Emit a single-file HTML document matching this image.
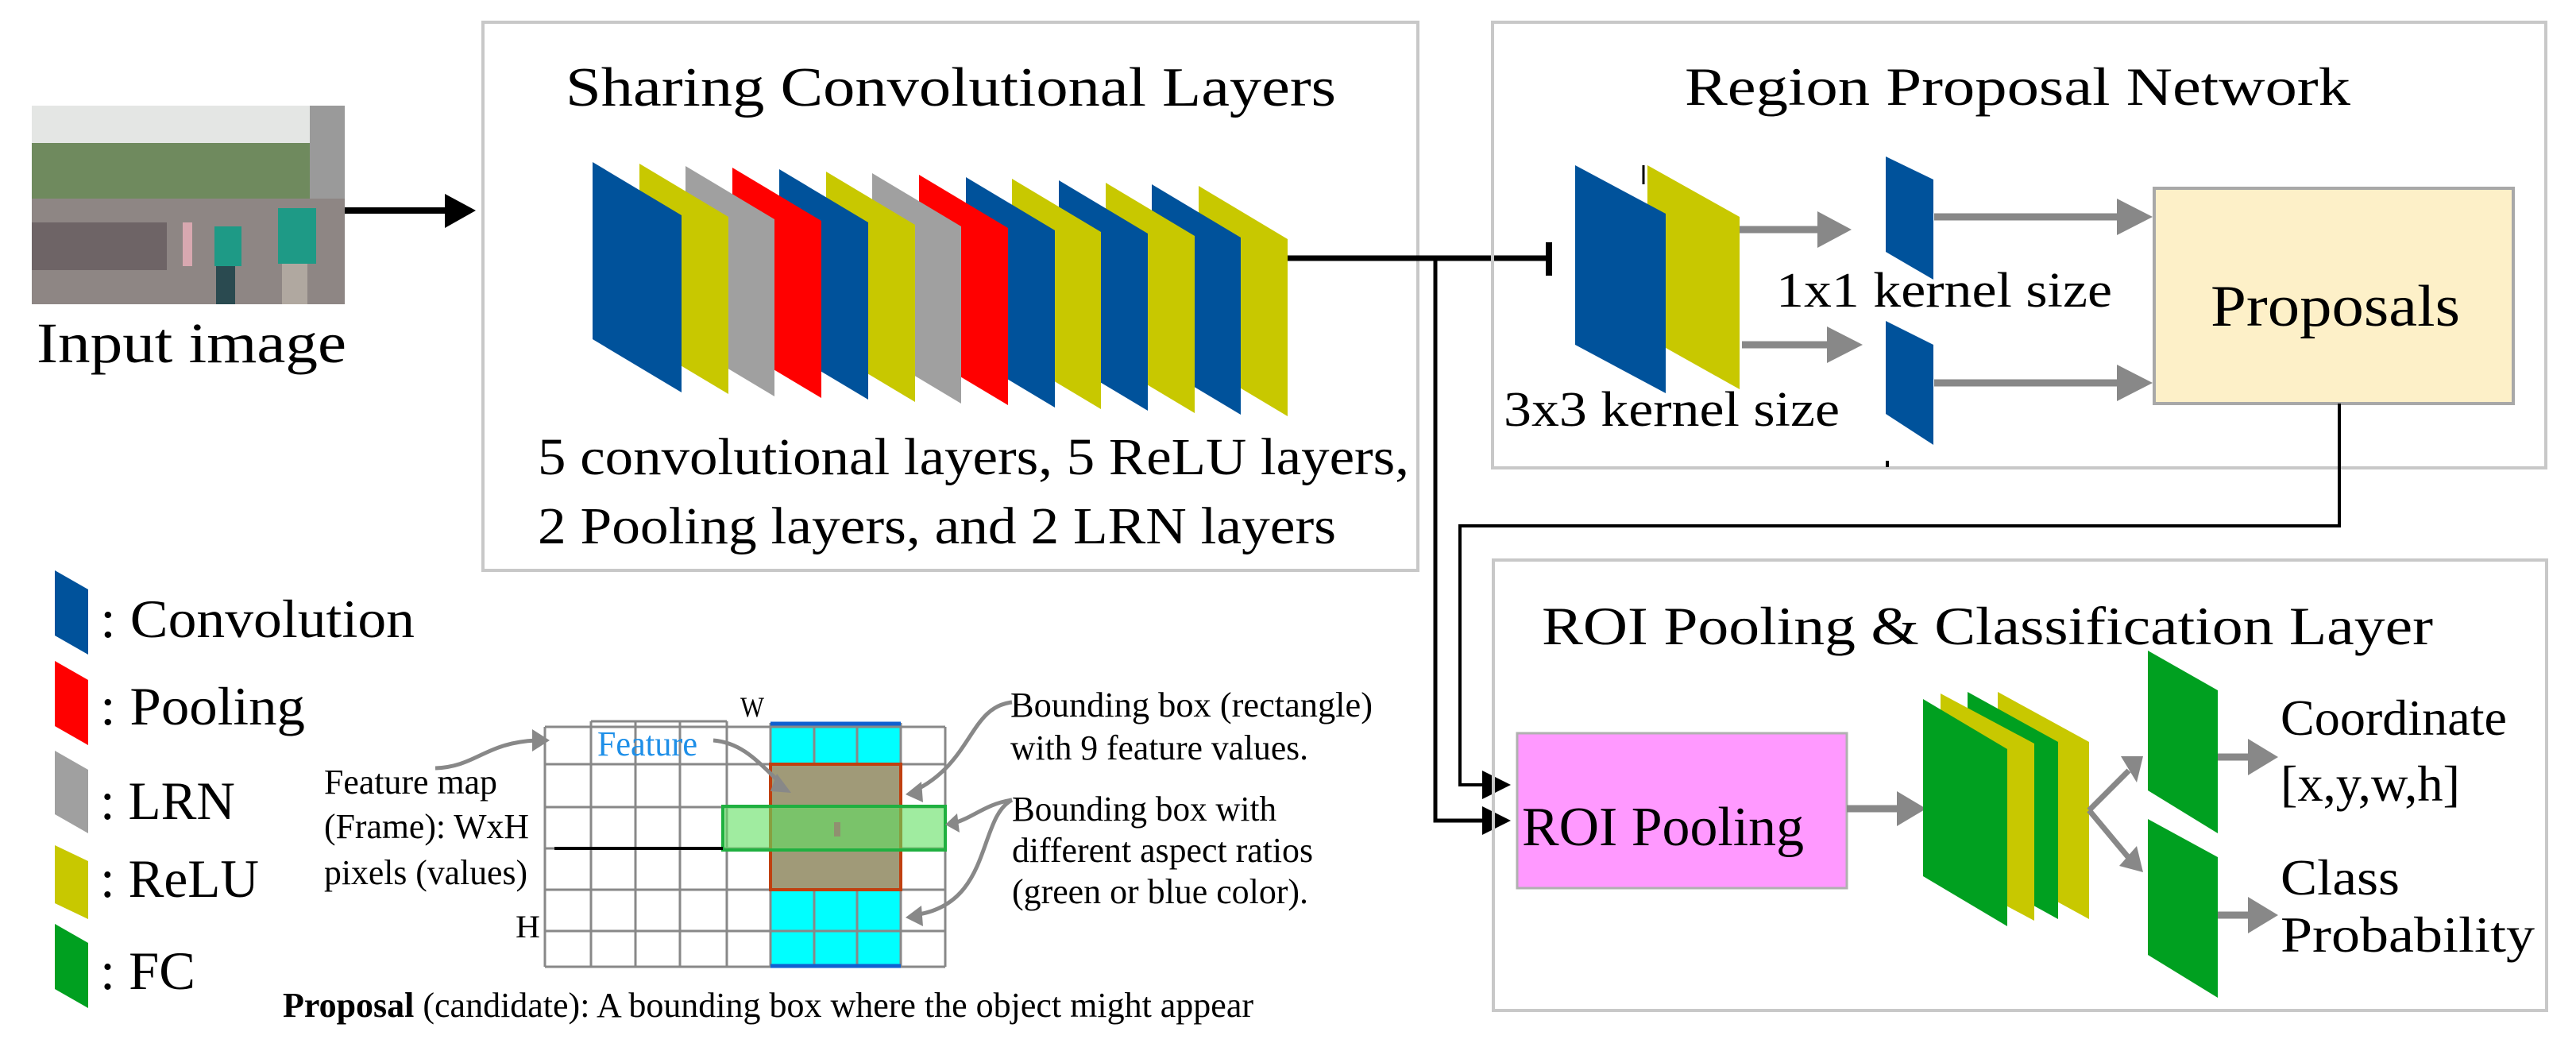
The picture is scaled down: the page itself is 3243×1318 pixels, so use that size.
<!DOCTYPE html>
<html><head><meta charset="utf-8"><style>
html,body{margin:0;padding:0;background:#fff;}
svg{display:block;}
text{font-family:"Liberation Serif",serif;fill:#000;}
</style></head><body>
<svg width="3243" height="1318" viewBox="0 0 3243 1318" xmlns="http://www.w3.org/2000/svg">
<rect width="3243" height="1318" fill="#fff"/>

<!-- Input image (stylized photo) -->
<rect x="40" y="133" width="394" height="250" fill="#8a8684"/>
<rect x="40" y="133" width="394" height="90" fill="#e4e6e4"/>
<rect x="40" y="180" width="394" height="70" fill="#6f8a5e"/>
<rect x="390" y="133" width="44" height="140" fill="#9a9a9a"/>
<rect x="40" y="250" width="394" height="133" fill="#8e8684"/>
<rect x="40" y="280" width="170" height="60" fill="#6e6466"/>
<rect x="270" y="285" width="34" height="50" fill="#1e9a86"/>
<rect x="272" y="335" width="24" height="48" fill="#2a4a50"/>
<rect x="350" y="262" width="48" height="70" fill="#1e9a86"/>
<rect x="355" y="332" width="32" height="51" fill="#b0a8a0"/>
<rect x="230" y="280" width="12" height="55" fill="#d8a8b0"/>

<text x="46" y="456" font-size="72" textLength="390" lengthAdjust="spacingAndGlyphs">Input image</text>

<line x1="434" y1="265" x2="565" y2="265" stroke="#000" stroke-width="8"/>
<polygon points="560,244 599,265 560,287" fill="#000"/>

<rect x="608" y="28" width="1177" height="690" fill="none" stroke="#c8c8c8" stroke-width="4"/>
<text x="712" y="133" font-size="70" textLength="970" lengthAdjust="spacingAndGlyphs">Sharing Convolutional Layers</text>

<g>
<polygon points="1509,234 1621,301 1621,524 1509,457" fill="#c8c800"/>
<polygon points="1450,232 1562,299 1562,522 1450,455" fill="#00529b"/>
<polygon points="1392,230 1504,297 1504,520 1392,453" fill="#c8c800"/>
<polygon points="1333,227 1445,294 1445,517 1333,450" fill="#00529b"/>
<polygon points="1274,225 1386,292 1386,515 1274,448" fill="#c8c800"/>
<polygon points="1216,223 1328,290 1328,513 1216,446" fill="#00529b"/>
<polygon points="1157,220 1269,287 1269,510 1157,443" fill="#ff0000"/>
<polygon points="1098,218 1210,285 1210,508 1098,441" fill="#a0a0a0"/>
<polygon points="1040,216 1152,283 1152,506 1040,439" fill="#c8c800"/>
<polygon points="981,213 1093,280 1093,503 981,436" fill="#00529b"/>
<polygon points="922,211 1034,278 1034,501 922,434" fill="#ff0000"/>
<polygon points="863,209 975,276 975,499 863,432" fill="#a0a0a0"/>
<polygon points="805,206 917,273 917,496 805,429" fill="#c8c800"/>
<polygon points="746,204 858,271 858,494 746,427" fill="#00529b"/>
</g>

<text x="677" y="597" font-size="66" textLength="1097" lengthAdjust="spacingAndGlyphs">5 convolutional layers, 5 ReLU layers,</text>
<text x="677" y="684" font-size="66" textLength="1005" lengthAdjust="spacingAndGlyphs">2 Pooling layers, and 2 LRN layers</text>

<line x1="1621" y1="325" x2="1950" y2="325" stroke="#000" stroke-width="7"/>
<line x1="1950" y1="305" x2="1950" y2="347" stroke="#000" stroke-width="8"/>

<rect x="1879" y="28" width="1326" height="561" fill="none" stroke="#c8c8c8" stroke-width="4"/>
<text x="2121" y="132" font-size="68" textLength="838" lengthAdjust="spacingAndGlyphs">Region Proposal Network</text>

<polygon points="2074,208 2190,273 2190,490 2074,425" fill="#c8c800"/>
<polygon points="1983,208 2097,269 2097,495 1983,434" fill="#00529b"/>
<line x1="2069" y1="208" x2="2069" y2="232" stroke="#000" stroke-width="3"/>

<line x1="2190" y1="289" x2="2292" y2="289" stroke="#888" stroke-width="9"/>
<polygon points="2288,266 2331,289 2288,312" fill="#888"/>
<line x1="2193" y1="434" x2="2302" y2="434" stroke="#888" stroke-width="9"/>
<polygon points="2300,411 2345,434 2300,457" fill="#888"/>

<polygon points="2374,197 2434,226 2434,352 2374,317" fill="#00529b"/>
<polygon points="2374,404 2434,434 2434,560 2374,521" fill="#00529b"/>
<rect x="2374" y="580" width="4" height="8" fill="#000"/>

<text x="2236" y="386" font-size="62" textLength="423" lengthAdjust="spacingAndGlyphs">1x1 kernel size</text>
<text x="1893" y="536" font-size="62" textLength="423" lengthAdjust="spacingAndGlyphs">3x3 kernel size</text>

<line x1="2435" y1="273" x2="2670" y2="273" stroke="#888" stroke-width="9"/>
<polygon points="2665,250 2710,273 2665,296" fill="#888"/>
<line x1="2435" y1="482" x2="2670" y2="482" stroke="#888" stroke-width="9"/>
<polygon points="2665,459 2710,482 2665,505" fill="#888"/>

<rect x="2712" y="237" width="452" height="271" fill="#fdf0c8" stroke="#a8a8a8" stroke-width="4"/>
<text x="2783" y="410" font-size="74" textLength="314" lengthAdjust="spacingAndGlyphs">Proposals</text>

<polyline points="2945,508 2945,662 1838,662 1838,988 1890,988" fill="none" stroke="#000" stroke-width="4"/>
<polyline points="1807,325 1807,1033 1890,1033" fill="none" stroke="#000" stroke-width="5"/>
<polygon points="1866,970 1902,988 1866,1006" fill="#000"/>
<polygon points="1866,1015 1902,1033 1866,1051" fill="#000"/>

<rect x="1880" y="705" width="1326" height="567" fill="none" stroke="#c8c8c8" stroke-width="4"/>
<text x="1941" y="811" font-size="68" textLength="1122" lengthAdjust="spacingAndGlyphs">ROI Pooling &amp; Classification Layer</text>

<rect x="1910" y="923" width="415" height="195" fill="#ff99ff" stroke="#b0b0b0" stroke-width="3"/>
<text x="1916" y="1064" font-size="70" textLength="355" lengthAdjust="spacingAndGlyphs">ROI Pooling</text>

<line x1="2325" y1="1018" x2="2392" y2="1018" stroke="#888" stroke-width="9"/>
<polygon points="2388,996 2425,1018 2388,1040" fill="#888"/>

<polygon points="2515,871 2630,934 2630,1157 2515,1094" fill="#c8c800"/>
<polygon points="2477,871 2591,934 2591,1157 2477,1094" fill="#00a020"/>
<polygon points="2443,873 2561,936 2561,1159 2443,1096" fill="#c8c800"/>
<polygon points="2421,880 2527,943 2527,1166 2421,1103" fill="#00a020"/>

<line x1="2630" y1="1020" x2="2680" y2="970" stroke="#888" stroke-width="7"/>
<polygon points="2670,952 2698,952 2690,985" fill="#888"/>
<line x1="2630" y1="1020" x2="2680" y2="1080" stroke="#888" stroke-width="7"/>
<polygon points="2668,1090 2698,1098 2690,1065" fill="#888"/>

<polygon points="2704,819 2792,869 2792,1049 2704,995" fill="#00a020"/>
<polygon points="2704,1031 2792,1079 2792,1256 2704,1202" fill="#00a020"/>

<line x1="2792" y1="953" x2="2835" y2="953" stroke="#888" stroke-width="9"/>
<polygon points="2830,930 2868,953 2830,976" fill="#888"/>
<line x1="2792" y1="1152" x2="2835" y2="1152" stroke="#888" stroke-width="9"/>
<polygon points="2830,1129 2868,1152 2830,1175" fill="#888"/>

<text x="2871" y="925" font-size="64" textLength="285" lengthAdjust="spacingAndGlyphs">Coordinate</text>
<text x="2871" y="1008" font-size="64" textLength="226" lengthAdjust="spacingAndGlyphs">[x,y,w,h]</text>
<text x="2871" y="1126" font-size="64" textLength="150" lengthAdjust="spacingAndGlyphs">Class</text>
<text x="2871" y="1198" font-size="64" textLength="320" lengthAdjust="spacingAndGlyphs">Probability</text>

<polygon points="69,718 111,742 111,824 69,800" fill="#00529b"/>
<polygon points="69,832 111,856 111,938 69,914" fill="#ff0000"/>
<polygon points="69,945 111,969 111,1049 69,1025" fill="#a0a0a0"/>
<polygon points="69,1064 111,1084 111,1157 69,1137" fill="#c8c800"/>
<polygon points="69,1163 111,1187 111,1269 69,1245" fill="#00a020"/>
<text x="126" y="802" font-size="68" textLength="396" lengthAdjust="spacingAndGlyphs">: Convolution</text>
<text x="126" y="912" font-size="68" textLength="258" lengthAdjust="spacingAndGlyphs">: Pooling</text>
<text x="126" y="1031" font-size="68" textLength="170" lengthAdjust="spacingAndGlyphs">: LRN</text>
<text x="126" y="1129" font-size="68" textLength="200" lengthAdjust="spacingAndGlyphs">: ReLU</text>
<text x="126" y="1245" font-size="68" textLength="120" lengthAdjust="spacingAndGlyphs">: FC</text>

<rect x="970" y="910" width="164" height="307" fill="#00ffff"/>
<g stroke="#888" stroke-width="3" fill="none">
<line x1="686" y1="915" x2="1190" y2="915"/>
<line x1="686" y1="962" x2="1190" y2="962"/>
<line x1="686" y1="1016" x2="1190" y2="1016"/>
<line x1="686" y1="1068" x2="1190" y2="1068"/>
<line x1="686" y1="1120" x2="1190" y2="1120"/>
<line x1="686" y1="1172" x2="1190" y2="1172"/>
<line x1="686" y1="1217" x2="1190" y2="1217"/>
<line x1="686" y1="915" x2="686" y2="1217"/>
<line x1="744" y1="908" x2="744" y2="1217"/>
<line x1="800" y1="908" x2="800" y2="1217"/>
<line x1="856" y1="908" x2="856" y2="1217"/>
<line x1="915" y1="908" x2="915" y2="1217"/>
<line x1="970" y1="910" x2="970" y2="1217"/>
<line x1="1025" y1="910" x2="1025" y2="1217"/>
<line x1="1079" y1="910" x2="1079" y2="1217"/>
<line x1="1134" y1="910" x2="1134" y2="1217"/>
<line x1="1190" y1="915" x2="1190" y2="1217"/>
<line x1="744" y1="908" x2="915" y2="908"/>
</g>
<line x1="970" y1="911" x2="1134" y2="911" stroke="#1060d0" stroke-width="5"/>
<line x1="970" y1="1216" x2="1134" y2="1216" stroke="#1060d0" stroke-width="5"/>
<rect x="970" y="962" width="164" height="158" fill="#a09a78" stroke="#c04010" stroke-width="4"/>
<rect x="910" y="1015" width="280" height="55" fill="#60e060" fill-opacity="0.6" stroke="#20b040" stroke-width="4"/>
<rect x="1050" y="1035" width="8" height="18" fill="#909070"/>
<line x1="698" y1="1068" x2="910" y2="1068" stroke="#000" stroke-width="4"/>

<text x="752" y="951" font-size="44" style="fill:#1e8fe8" textLength="126" lengthAdjust="spacingAndGlyphs">Feature</text>
<text x="932" y="902" font-size="36" textLength="30" lengthAdjust="spacingAndGlyphs">W</text>
<text x="649" y="1180" font-size="40" textLength="31" lengthAdjust="spacingAndGlyphs">H</text>
<text x="408" y="999" font-size="44" textLength="218" lengthAdjust="spacingAndGlyphs">Feature map</text>
<text x="408" y="1055" font-size="44" textLength="258" lengthAdjust="spacingAndGlyphs">(Frame): WxH</text>
<text x="408" y="1113" font-size="44" textLength="256" lengthAdjust="spacingAndGlyphs">pixels (values)</text>
<text x="1272" y="902" font-size="44" textLength="456" lengthAdjust="spacingAndGlyphs">Bounding box (rectangle)</text>
<text x="1272" y="956" font-size="44" textLength="375" lengthAdjust="spacingAndGlyphs">with 9 feature values.</text>
<text x="1274" y="1033" font-size="44" textLength="333" lengthAdjust="spacingAndGlyphs">Bounding box with</text>
<text x="1274" y="1085" font-size="44" textLength="379" lengthAdjust="spacingAndGlyphs">different aspect ratios</text>
<text x="1274" y="1137" font-size="44" textLength="373" lengthAdjust="spacingAndGlyphs">(green or blue color).</text>
<text x="356" y="1280" font-size="44" textLength="1222" lengthAdjust="spacingAndGlyphs"><tspan font-weight="bold">Proposal</tspan> (candidate): A bounding box where the object might appear</text>

<g fill="none" stroke="#888" stroke-width="5">
<path d="M548,967 C600,965 610,935 675,932"/>
<path d="M898,932 C935,935 955,960 985,988"/>
<path d="M1274,884 C1220,890 1225,960 1150,996"/>
<path d="M1274,1007 C1240,1012 1225,1030 1198,1037"/>
<path d="M1274,1007 C1230,1030 1250,1140 1150,1152"/>
</g>
<g fill="#888">
<polygon points="670,918 692,932 670,946"/>
<polygon points="978,974 996,998 970,996"/>
<polygon points="1160,984 1140,1000 1162,1010"/>
<polygon points="1205,1024 1190,1038 1208,1048"/>
<polygon points="1160,1140 1140,1155 1162,1166"/>
</g>
</svg>
</body></html>
